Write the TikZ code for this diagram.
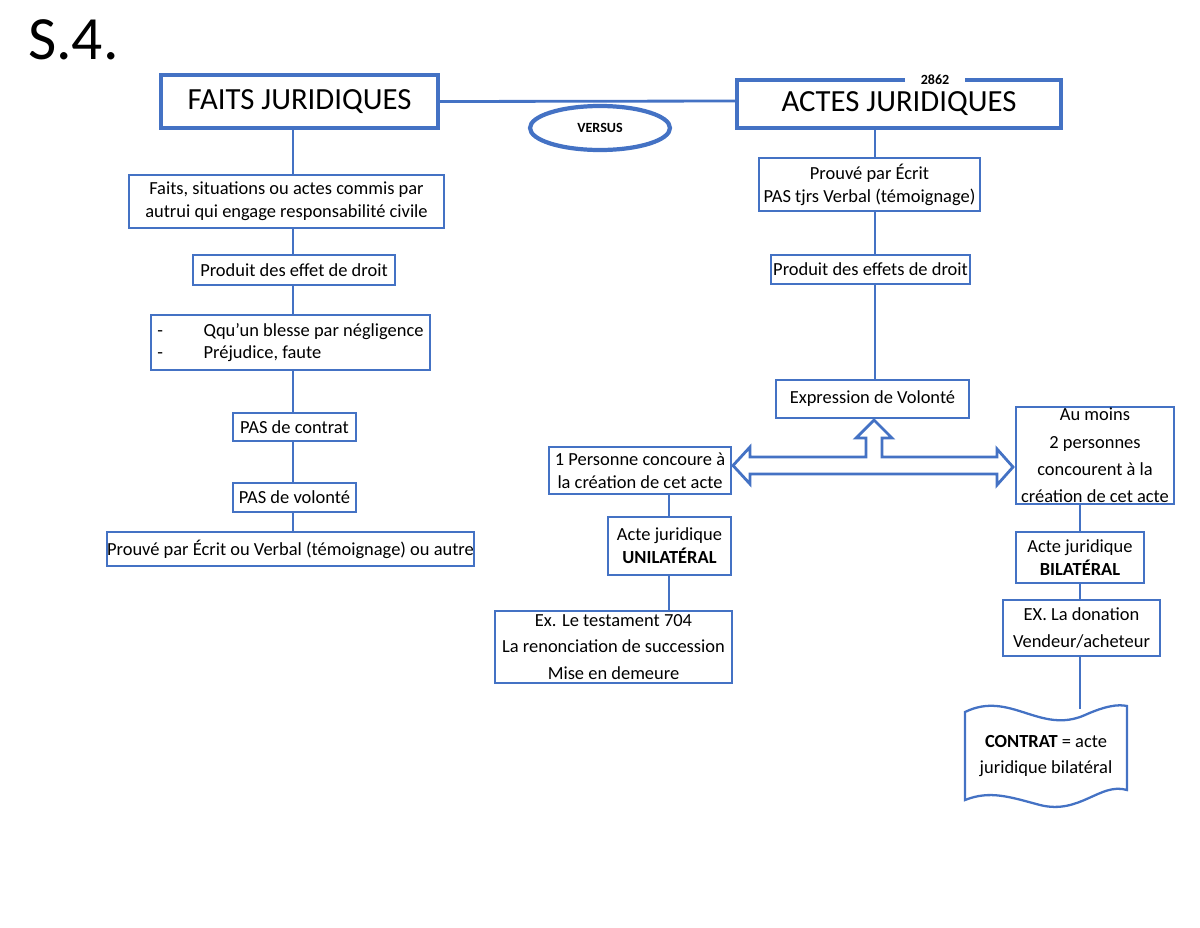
\documentclass[tikz,border=0pt]{standalone}
\usepackage{fontspec}
\setmainfont{Carlito}
\usetikzlibrary{shapes.geometric}
\definecolor{bl}{RGB}{68,114,196}
\begin{document}
\begin{tikzpicture}[x=0.02cm,y=-0.02cm,
 bx/.style={draw=bl,line width=1.3pt,inner sep=0pt,align=center,font=\fontsize{10.5}{13}\selectfont},
 big/.style={draw=bl,line width=2.4pt,inner sep=0pt,font=\fontsize{17.5}{20}\selectfont},
 ln/.style={draw=bl,line width=1.6pt}]
\useasboundingbox (0,0) rectangle (1200,927);
\node[anchor=west,font=\fontsize{35}{40}\selectfont] (t) at (22,40) {S.4.};
\node[big,minimum width=277*0.02cm,minimum height=53*0.02cm] (F) at (299.5,101.5) {FAITS JURIDIQUES};
\node[big,draw=none,minimum width=324*0.02cm,minimum height=48*0.02cm] (A) at (899,104) {ACTES JURIDIQUES};
\draw[bl,line width=2.4pt] (905,80) -- (737,80) -- (737,128) -- (1061,128) -- (1061,80) -- (965,80);
\node[font=\bfseries\fontsize{8}{9}\selectfont] (n) at (935,80) {2862};
\node[draw=bl,line width=2.4pt,ellipse,minimum width=140*0.02cm,minimum height=44*0.02cm,font=\bfseries\fontsize{8}{9}\selectfont] (V) at (600,128) {VERSUS};
\draw[ln] (F.east) -- (737,101);
% left column
\node[bx,minimum width=315*0.02cm,minimum height=53*0.02cm] (L1) at (286.5,201.5) {Faits, situations ou actes commis par\\autrui qui engage responsabilité civile};
\node[bx,minimum width=202*0.02cm,minimum height=30*0.02cm] (L2) at (294,270) {Produit des effet de droit};
\node[bx,minimum width=279*0.02cm,minimum height=55*0.02cm,align=left] (L3) at (290.5,342.5) {-\hspace{2.2em}Qqu’un blesse par négligence\\-\hspace{2.2em}Préjudice, faute\hspace{7.6em}};
\node[bx,minimum width=123*0.02cm,minimum height=28*0.02cm] (L4) at (294.5,427) {PAS de contrat};
\node[bx,minimum width=123*0.02cm,minimum height=29*0.02cm] (L5) at (294.5,497.5) {PAS de volonté};
\node[bx,minimum width=359*0.02cm,minimum height=34*0.02cm] (L6) at (290.5,549) {Prouvé par Écrit ou Verbal (témoignage) ou autre};
\draw[ln] (293,128) -- (293,175) (293,228) -- (293,255) (293,285) -- (293,315) (293,370) -- (293,413) (293,441) -- (293,483) (293,512) -- (293,532);
% right column
\node[bx,minimum width=221*0.02cm,minimum height=53*0.02cm] (R1) at (869.5,184.5) {Prouvé par Écrit\\PAS tjrs Verbal (témoignage)};
\node[bx,minimum width=199*0.02cm,minimum height=29*0.02cm] (R2) at (870.5,269.5) {Produit des effets de droit};
\node[bx,minimum width=193*0.02cm,minimum height=38*0.02cm] (R3) at (872.5,399) {Expression de Volonté};
\draw[ln] (875,128) -- (875,158) (875,211) -- (875,255) (875,284) -- (875,380);
\node[bx,minimum width=182*0.02cm,minimum height=47*0.02cm] (P1) at (640,470.5) {1 Personne concoure à\\la création de cet acte};
\node[bx,minimum width=123*0.02cm,minimum height=58*0.02cm] (P2) at (669.5,546) {Acte juridique\\\textbf{UNILATÉRAL}};
\node[bx,minimum width=237*0.02cm,minimum height=72*0.02cm,font=\fontsize{10.5}{15}\selectfont] (P3) at (613.5,647) {Ex. Le testament 704\\La renonciation de succession\\Mise en demeure};
\draw[ln] (669,494) -- (669,517) (669,575) -- (669,611);
\node[bx,minimum width=158*0.02cm,minimum height=97*0.02cm,font=\fontsize{10.5}{15.5}\selectfont] (Q1) at (1095,455.5) {Au moins\\2 personnes\\concourent à la\\création de cet acte};
\node[bx,minimum width=128*0.02cm,minimum height=51*0.02cm] (Q2) at (1080,557.5) {Acte juridique\\\textbf{BILATÉRAL}};
\node[bx,minimum width=157*0.02cm,minimum height=56*0.02cm,font=\fontsize{10.5}{15}\selectfont] (Q3) at (1081.5,628) {EX. La donation\\Vendeur/acheteur};
\draw[bl,line width=1.3pt] (965,712) .. controls (1010,690) and (1040,735) .. (1085,715) .. controls (1105,706) and (1118,704) .. (1127,706) -- (1127,790)
 .. controls (1100,782) and (1080,815) .. (1040,805) .. controls (1010,797) and (990,790) .. (965,800) -- cycle;
\node[align=center,font=\fontsize{10.5}{15}\selectfont] (D) at (1046,756) {\textbf{CONTRAT} = acte\\juridique bilatéral};
\draw[ln] (1080,504) -- (1080,532) (1080,583) -- (1080,600) (1080,656) -- (1080,709);
% block arrow
\draw[bl,line width=1.6pt,fill=white] (733,465.5) -- (750,447) -- (750,457) -- (866,457) -- (866,438) -- (856,438) -- (874,420) -- (892,438) -- (882,438) -- (882,457) -- (997,457) -- (997,449) -- (1013,467) -- (997,485) -- (997,474) -- (750,474) -- (750,484) -- cycle;
\end{tikzpicture}
\end{document}
